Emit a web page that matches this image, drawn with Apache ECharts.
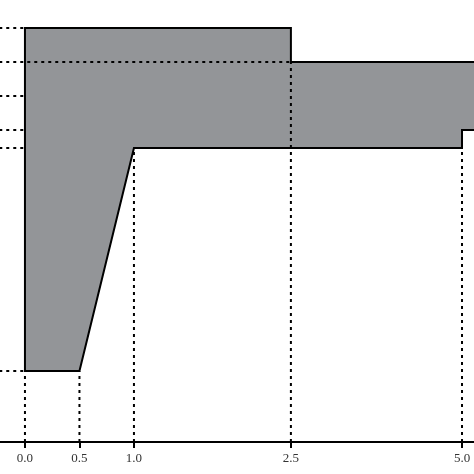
<!DOCTYPE html>
<html><head><meta charset="utf-8">
<script src="https://cdn.jsdelivr.net/npm/echarts@6/dist/echarts.min.js"></script>
<style>html,body{margin:0;padding:0;background:#fff}#c{width:474px;height:474px}</style>
</head><body><div id="c"></div>
<script>
// tick labels (x values)
const xTicks = [0.0, 0.5, 1.0, 2.5, 5.0];
// y levels (arbitrary units, no labels shown)
const yLevels = [41.4, 38.0, 34.6, 31.2, 29.4, 7.1];
// upper boundary of shaded region [x, y]
const upperEdge = [[0, 41.4], [2.5, 41.4], [2.5, 38.0], [5.2, 38.0]];
// lower boundary of shaded region [x, y]
const lowerEdge = [[0, 7.1], [0.5, 7.1], [1.0, 29.4], [5.0, 29.4], [5.0, 31.2], [5.2, 31.2]];
// horizontal reference lines: [y, xEnd]
const hRefs = [[41.4, 0], [38.0, 2.5], [34.6, 0], [31.2, 0], [29.4, 0], [7.1, 0]];
// vertical reference lines: [x, yTop]
const vRefs = [[0, 7.1], [0.5, 7.1], [1.0, 29.4], [2.5, 38.0], [5.0, 29.4]];

// non-uniform axis: breakpoints mapping data x -> plot position
const bx = [0, 1, 2.5, 5.0], bu = [0, 1, 2.44, 4.01];
function f(x){
  for (let i=1;i<bx.length;i++){ if (x<=bx[i] || i===bx.length-1){
    return bu[i-1] + (x-bx[i-1])*(bu[i]-bu[i-1])/(bx[i]-bx[i-1]); } }
}
const uToLabel = {}; xTicks.forEach(t => uToLabel[f(t).toFixed(4)] = t.toFixed(1));
const poly = upperEdge.concat(lowerEdge.slice().reverse()).map(p => [f(p[0]), p[1]]);
const dotted = {color:'#000', width:2, type:[3,4]};
const series = [{
  type:'custom', silent:true,
  renderItem:(params, api) => ({type:'polygon', shape:{points: poly.map(p => api.coord(p))},
    style:{fill:'#939598', stroke:'#000', lineWidth:2}}),
  data:[0], z:2
}];
hRefs.forEach(([y, xe]) => series.push({type:'line', symbol:'none', silent:true, z:3,
  data:[[-0.3, y], [f(xe), y]], lineStyle:dotted}));
vRefs.forEach(([x, yt]) => series.push({type:'line', symbol:'none', silent:true, z:3,
  data:[[f(x), 0], [f(x), yt]], lineStyle:dotted}));
series.push({type:'line', symbol:'none', silent:true, z:4,
  data:[[-0.3, 0],[4.2, 0]], lineStyle:{color:'#000', width:2}});
const chart = echarts.init(document.getElementById('c'));
chart.setOption({
  animation:false,
  grid:{left:0, right:0, top:0, bottom:32},
  xAxis:{type:'value', min:-0.229, max:4.12, splitLine:{show:false},
    axisLine:{show:true, onZero:false, lineStyle:{color:'#000', width:2}},
    axisTick:{show:true, customValues: xTicks.map(f), length:6, lineStyle:{color:'#000', width:2}},
    axisLabel:{customValues: xTicks.map(f), formatter: v => uToLabel[v.toFixed(4)] || '',
      fontFamily:'Liberation Serif', fontSize:13, color:'#333', margin:10}},
  yAxis:{type:'value', min:0, max:44.2, show:false},
  series
});
</script></body></html>
